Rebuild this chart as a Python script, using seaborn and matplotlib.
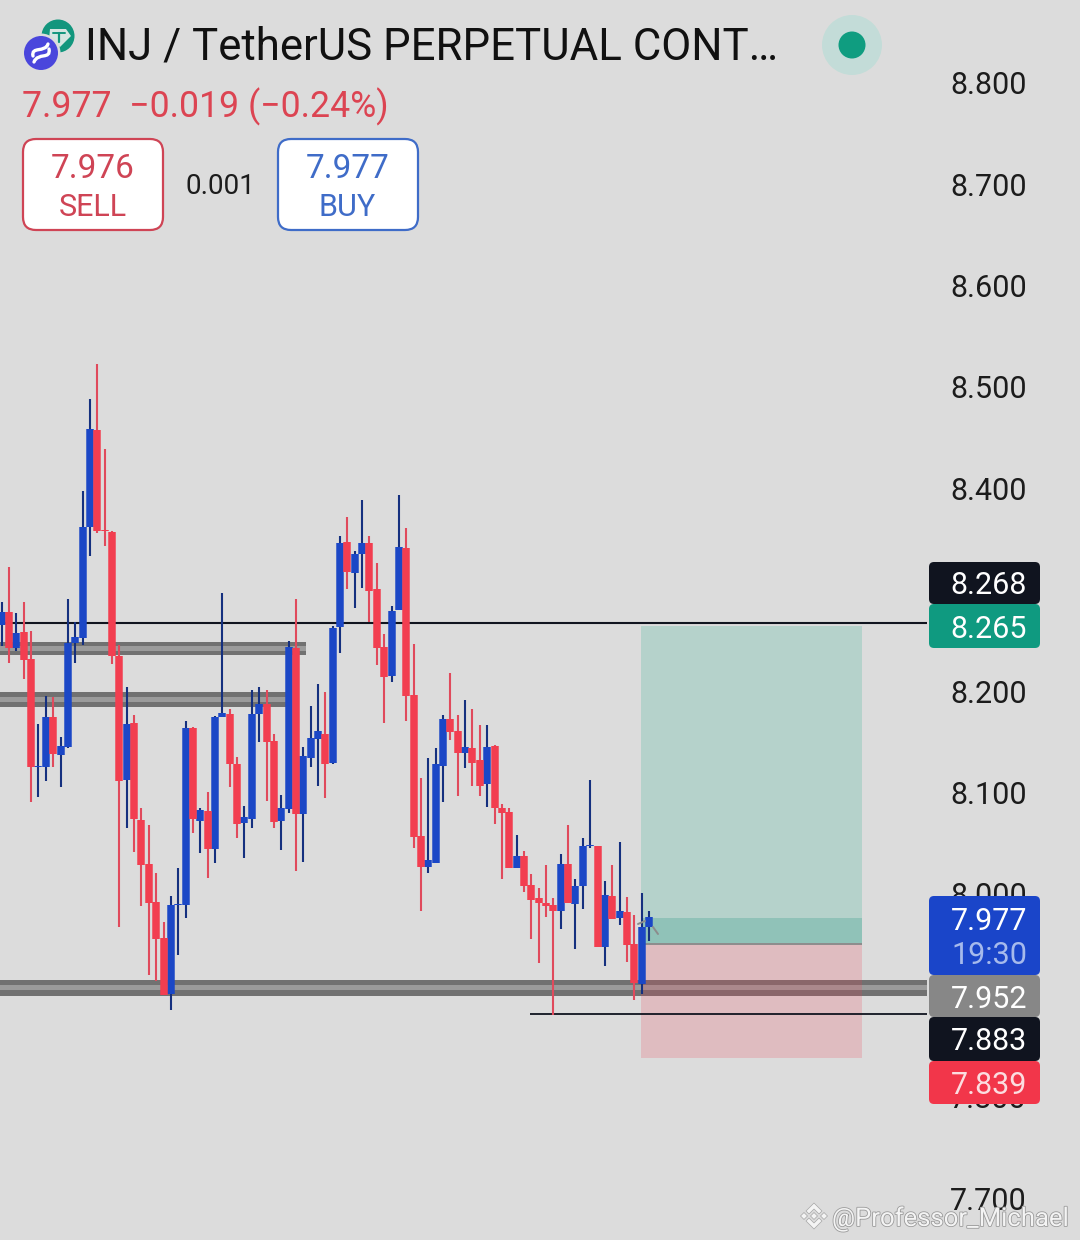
import numpy as np
import pandas as pd
import seaborn as sns
import matplotlib.pyplot as plt
import matplotlib.patheffects as pe
from matplotlib.patches import Circle, FancyBboxPatch, PathPatch, Polygon
from matplotlib.path import Path
from matplotlib.transforms import ScaledTranslation

direction = list("UDUDDUUDUUUUUDDDDUDDDDDUUUDUDUUDDUUUDDUUDUUUDUUDUUDDDUUDDDUUUDDUDDUDDDUDDDDDUDUUUDUDUDDUU")
highs = [8.289, 8.324, 8.278, 8.289, 8.261, 8.169, 8.196, 8.195, 8.156, 8.292,
         8.269, 8.399, 8.489, 8.524, 8.440, 8.359, 8.247, 8.205, 8.178, 8.086,
         8.069, 8.022, 7.974, 7.999, 8.027, 8.172, 8.166, 8.086, 8.102, 8.177,
         8.298, 8.184, 8.136, 8.088, 8.202, 8.205, 8.202, 8.159, 8.099, 8.251,
         8.292, 8.146, 8.187, 8.208, 8.200, 8.265, 8.354, 8.373, 8.339, 8.390,
         8.354, 8.328, 8.258, 8.285, 8.395, 8.362, 8.248, 8.116, 8.135, 8.145,
         8.178, 8.219, 8.178, 8.192, 8.184, 8.168, 8.168, 8.148, 8.090, 8.086,
         8.059, 8.044, 8.021, 8.007, 8.030, 7.997, 8.041, 8.069, 8.016, 8.056,
         8.114, 8.048, 8.014, 8.030, 8.052, 7.998, 7.980, 8.002, 7.984]
body_top = [8.279, 8.279, 8.259, 8.260, 8.233, 8.127, 8.176, 8.176, 8.147, 8.249,
            8.255, 8.363, 8.460, 8.459, 8.360, 8.358, 8.236, 8.169, 8.170, 8.074,
            8.031, 7.993, 7.958, 7.990, 7.991, 8.165, 8.165, 8.084, 8.083, 8.176,
            8.180, 8.179, 8.129, 8.077, 8.179, 8.189, 8.189, 8.152, 8.086, 8.245,
            8.244, 8.137, 8.155, 8.162, 8.159, 8.263, 8.347, 8.348, 8.336, 8.347,
            8.347, 8.302, 8.245, 8.280, 8.343, 8.342, 8.197, 8.058, 8.035, 8.129,
            8.174, 8.174, 8.162, 8.146, 8.145, 8.133, 8.146, 8.147, 8.086, 8.082,
            8.039, 8.039, 8.010, 7.997, 7.992, 7.990, 8.031, 8.031, 8.009, 8.048,
            8.049, 8.048, 8.000, 7.999, 7.984, 7.983, 7.952, 7.969, 7.978]
body_bot = [8.266, 8.244, 8.244, 8.232, 8.126, 8.126, 8.126, 8.139, 8.138, 8.146,
            8.249, 8.254, 8.363, 8.359, 8.359, 8.236, 8.113, 8.114, 8.075, 8.030,
            7.992, 7.957, 7.902, 7.903, 7.990, 7.990, 8.075, 8.073, 8.046, 8.046,
            8.176, 8.129, 8.070, 8.071, 8.075, 8.179, 8.151, 8.072, 8.073, 8.085,
            8.080, 8.080, 8.135, 8.154, 8.129, 8.130, 8.264, 8.319, 8.318, 8.336,
            8.300, 8.244, 8.215, 8.216, 8.281, 8.196, 8.057, 8.028, 8.028, 8.032,
            8.127, 8.161, 8.140, 8.140, 8.130, 8.108, 8.110, 8.086, 8.081, 8.027,
            8.027, 8.009, 7.995, 7.992, 7.989, 7.984, 7.984, 7.992, 7.991, 8.009,
            8.048, 7.949, 7.949, 7.976, 7.977, 7.951, 7.913, 7.912, 7.969]
lows = [8.246, 8.229, 8.241, 8.213, 8.092, 8.097, 8.113, 8.126, 8.107, 8.145,
        8.229, 8.247, 8.334, 8.357, 8.344, 8.228, 7.969, 8.066, 8.043, 7.989,
        7.921, 7.915, 7.902, 7.887, 7.941, 7.977, 8.061, 8.042, 8.017, 8.032,
        8.176, 8.107, 8.056, 8.037, 8.066, 8.151, 8.093, 8.066, 8.045, 8.081,
        8.024, 8.033, 8.126, 8.108, 8.096, 8.129, 8.239, 8.302, 8.283, 8.303,
        8.269, 8.227, 8.170, 8.210, 8.281, 8.172, 8.047, 7.984, 8.022, 8.032,
        8.092, 8.153, 8.098, 8.125, 8.108, 8.098, 8.087, 8.070, 8.016, 8.027,
        8.027, 8.003, 7.957, 7.933, 7.978, 7.882, 7.967, 7.992, 7.947, 7.986,
        8.047, 7.949, 7.930, 7.976, 7.971, 7.934, 7.897, 7.903, 7.955]

price_ticks = [8.8, 8.7, 8.6, 8.5, 8.4, 8.3, 8.2, 8.1, 8.0, 7.9, 7.8, 7.7]

# levels drawn on the chart
resistance = 8.268
support = 7.883
zones = [(8.250, 8.237, 41.4), (8.200, 8.186, 39.2), (7.916, 7.901, 125.8)]
target = 8.265
entry = 7.952
last_price = 7.977
stop = 7.839

BG = '#dcdcdc'
BLUE = '#1b47c6'
RED = '#f23e50'
BLUE_WICK = '#15307f'
RED_WICK = '#e04a5c'
DARK = '#10141f'
FONT = 'Roboto'

sns.set_theme(style='white', rc={'axes.facecolor': BG, 'figure.facecolor': BG})
plt.rcParams['font.family'] = [FONT, 'DejaVu Sans']

candles = pd.DataFrame({'i': np.arange(len(highs)), 'dir': direction, 'high': highs,
                        'top': body_top, 'bot': body_bot, 'low': lows})
wicks = candles.melt(id_vars=['i', 'dir'], value_vars=['high', 'low'], value_name='price')
bodies = candles.melt(id_vars=['i', 'dir'], value_vars=['top', 'bot'], value_name='price')

fig = plt.figure(figsize=(10.8, 12.4), dpi=100)
ax = fig.add_axes([0, 0, 1, 1])

# zones and the long / short box go under the candles
for hi, lo, end in zones:
    ax.fill_between([-1, end], lo, hi, color='#717171', lw=0, zorder=1)
    mid = (hi + lo) / 2
    ax.fill_between([-1, end], mid - 0.0025, mid + 0.0025, color='#9b9b9b', lw=0, zorder=1.1)

box_x = [86.9, 117]
ax.fill_between(box_x, entry, target, color='#19aa87', alpha=0.2, lw=0, zorder=1.5)
ax.fill_between(box_x, entry, last_price, color='#00826e', alpha=0.2, lw=0, zorder=1.6)
ax.fill_between(box_x, stop, entry, color='#f03c50', alpha=0.2, lw=0, zorder=1.5)
ax.hlines(entry, box_x[0], box_x[1], color='#8c8c8c', lw=1.4, zorder=1.7)

ax.hlines(resistance, -1, 125.8, color=DARK, lw=1.5, zorder=2)
ax.hlines(support, 71.8, 125.8, color=DARK, lw=1.3, zorder=2)

sns.lineplot(data=wicks, x='i', y='price', units='i', estimator=None, hue='dir',
             palette={'U': BLUE_WICK, 'D': RED_WICK}, lw=1.5, legend=False, ax=ax, zorder=3,
             solid_capstyle='butt')
sns.lineplot(data=bodies, x='i', y='price', units='i', estimator=None, hue='dir',
             palette={'U': BLUE, 'D': RED}, lw=5.4, legend=False, ax=ax, zorder=4,
             solid_capstyle='butt')

ax.set_xlim(-0.231, 146.59)
ax.set_ylim(8.8828 - 1240 / 1014, 8.8828)
ax.set_xlabel('')
ax.set_ylabel('')
ax.set_xticks([])
ax.yaxis.tick_right()
ax.set_yticks(price_ticks)
ax.set_yticklabels([f'{p:.3f}' for p in price_ticks], fontsize=22, color='#1c1c1c', ha='right')
ax.tick_params(axis='y', length=0, pad=-38.2)
nudge = ScaledTranslation(0, 1.2 / 100, fig.dpi_scale_trans)
for lab in ax.get_yticklabels():
    lab.set_transform(lab.get_transform() + nudge)
for s in ax.spines.values():
    s.set_visible(False)

# trading app furniture, laid out in screen pixels
ui = fig.add_axes([0, 0, 1, 1], zorder=5)
ui.set_xlim(0, 1080)
ui.set_ylim(1240, 0)
ui.axis('off')
ui.patch.set_alpha(0)


def tag(y0, y1, color):
    ui.add_patch(FancyBboxPatch((933, y0 + 4), 103, y1 - y0 - 8,
                                boxstyle='round,pad=4,rounding_size=5', fc=color, ec='none'))


def tag_text(y, s, color='white', size=22):
    ui.text(1027, y, s, ha='right', va='center_baseline', fontsize=size, color=color)


tag(562, 604, DARK)
tag_text(583, '8.268')
tag(604, 648, '#0f9a80')
tag_text(626, '8.265')
tag(896, 975, '#1a45c9')
tag_text(918, '7.977')
tag_text(953, '19:30', color='#a6baec')
tag(975, 1017, '#878787')
tag_text(996, '7.952')
tag(1017, 1061, DARK)
tag_text(1039, '7.883')
tag(1061, 1104, '#f2364a')
tag_text(1082, '7.839', color='#fbdde0')

# header
ui.text(85, 43, 'INJ / TetherUS PERPETUAL CONT…', fontsize=31.5, color='#111111', va='center_baseline')
ui.text(22, 103, '7.977  −0.019 (−0.24%)', fontsize=25.7, color='#dc4452', va='center_baseline')

for x0, col, price, word in [(23, '#cf4455', '7.976', 'SELL'), (278, '#3f6cc8', '7.977', 'BUY')]:
    ui.add_patch(FancyBboxPatch((x0 + 13, 152), 114, 65, boxstyle='round,pad=13,rounding_size=13',
                                fc='white', ec=col, lw=1.6))
    ui.text(x0 + 69.5, 166, price, ha='center', va='center_baseline', fontsize=24, color=col)
    ui.text(x0 + 69.5, 205, word, ha='center', va='center_baseline', fontsize=22, color=col)
ui.text(220, 183, '0.001', ha='center', va='center_baseline', fontsize=20, color='#1c1c1c')

# coin icons
ui.add_patch(Circle((58, 36), 16.5, fc='#12967d', ec='none'))
ui.add_patch(Polygon([(50, 29), (66, 29), (71, 36), (60, 47), (49, 40)], fc='#d5e6e1', ec='none'))
ui.plot([53, 65], [33, 33], color='#12967d', lw=1.4)
ui.plot([59, 59], [33, 42], color='#12967d', lw=1.6)
ui.add_patch(Circle((41, 53), 19.5, fc=BG, ec='none'))
ui.add_patch(Circle((41, 53), 17, fc='#4a46dc', ec='none'))
for verts in [[(33, 56), (31, 46), (45, 53), (48, 44)], [(34, 62), (38, 52), (51, 60), (49, 49)]]:
    ui.add_patch(PathPatch(Path(verts, [Path.MOVETO, Path.CURVE4, Path.CURVE4, Path.CURVE4]),
                           fc='none', ec='white', lw=2.4, capstyle='round'))

# live status dot
ui.add_patch(Circle((852, 45), 30, fc='#c3dcd8', ec='none'))
ui.add_patch(Circle((852, 45), 13.5, fc='#0f9d80', ec='none'))

# small gray trail around the last candle
ui.plot([638, 645], [924, 921], color='#8c8c8c', lw=1.4)
ui.plot([653, 658], [927, 934], color='#8c8c8c', lw=1.4)

# watermark
halo = [pe.withStroke(linewidth=1.2, foreground='#9a9a9a')]
ui.text(832, 1216, '@Professor_Michael', fontsize=18.5, color='#f4f4f4', va='center_baseline',
        path_effects=halo)
logo = [[(814, 1203), (822, 1211), (819, 1214), (814, 1209), (809, 1214), (806, 1211)],
        [(814, 1229), (822, 1221), (819, 1218), (814, 1223), (809, 1218), (806, 1221)],
        [(814, 1212.5), (817.5, 1216), (814, 1219.5), (810.5, 1216)],
        [(804, 1212.5), (807.5, 1216), (804, 1219.5), (800.5, 1216)],
        [(824, 1212.5), (827.5, 1216), (824, 1219.5), (820.5, 1216)]]
for pts in logo:
    ui.add_patch(Polygon(pts, fc='#f4f4f4', ec='#a5a5a5', lw=0.5))

fig.savefig('out.png', dpi=100)
